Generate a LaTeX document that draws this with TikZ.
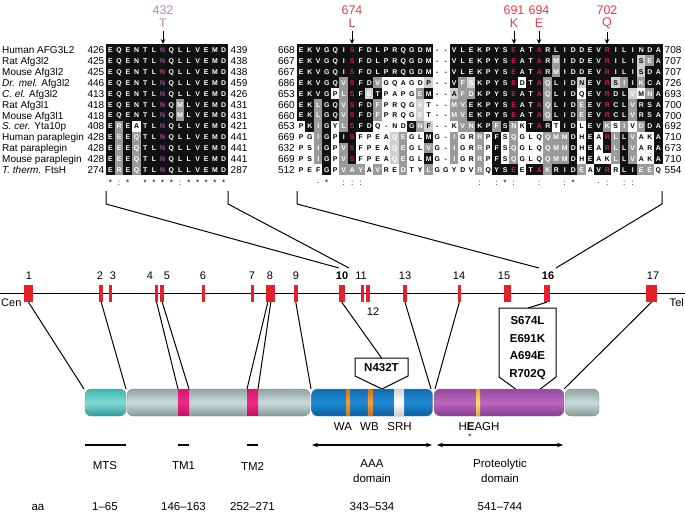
\documentclass[tikz,border=0pt]{standalone}
\usepackage{fontspec}
\setmainfont{Liberation Sans}
\usetikzlibrary{arrows.meta}
\definecolor{alnblack}{HTML}{111111}
\definecolor{alngray}{HTML}{9A9A9A}
\definecolor{alnlight}{HTML}{D0D0D0}
\definecolor{alnpurple}{HTML}{A24E9E}
\definecolor{alnred}{HTML}{D8185E}
\definecolor{lblpurple}{HTML}{B784C8}
\definecolor{lblred}{HTML}{E0404A}
\definecolor{exred}{HTML}{E4202A}
\definecolor{tealT}{HTML}{3BB7B2}
\definecolor{tealM}{HTML}{86D9D3}
\definecolor{tealB}{HTML}{2A9E9A}
\definecolor{grayT}{HTML}{8FA4A4}
\definecolor{grayM}{HTML}{CADBDB}
\definecolor{grayB}{HTML}{869A9A}
\definecolor{blueT}{HTML}{0E6CB4}
\definecolor{blueM}{HTML}{1F8AD2}
\definecolor{blueB}{HTML}{0A5DA3}
\definecolor{purT}{HTML}{9847A0}
\definecolor{purM}{HTML}{BA68BE}
\definecolor{purB}{HTML}{873A90}
\definecolor{magT}{HTML}{D9156F}
\definecolor{magM}{HTML}{EE2A86}
\definecolor{magB}{HTML}{C4105F}
\definecolor{orT}{HTML}{C9741A}
\definecolor{orM}{HTML}{F0A040}
\definecolor{yeT}{HTML}{D9B030}
\definecolor{yeM}{HTML}{F5DE70}

\newcommand\drawcell[7]{%
  \pgfmathsetmacro\cellx{#2+(#5-0.5)*#3}%
  \pgfmathsetmacro\cellw{#3+0.35}%
  \node[alncell, minimum width=\cellw pt, cell#7] (#1-#5) at (\cellx,#4) {#6};%
}
\ExplSyntaxOn
\NewDocumentCommand \alnrow { m m m m m m }
  {
    \str_set:Nn \l_tmpa_str {#5}
    \str_remove_all:Nn \l_tmpa_str {~}
    \str_set:Nn \l_tmpb_str {#6}
    \str_remove_all:Nn \l_tmpb_str {~}
    \int_step_inline:nn { \str_count:N \l_tmpa_str }
      {
        \use:e
          {
            \exp_not:N \drawcell {#1} {#2} {#3} {#4} {##1}
              { \str_item:Nn \l_tmpa_str {##1} }
              { \str_item:Nn \l_tmpb_str {##1} }
          }
      }
  }
\ExplSyntaxOff

\begin{document}
\begin{tikzpicture}[x=1pt,y=-1pt,
  lab/.style={font=\fontsize{10}{12}\selectfont, inner sep=0pt, text height=7.2pt, text depth=0pt},
  alncell/.style={inner sep=0pt, minimum height=11.1pt, font=\fontsize{6.9}{7}\selectfont\bfseries, text height=5pt, text depth=0pt},
  cellk/.style={fill=alnblack, text=white},
  cellg/.style={fill=alngray, text=white},
  celll/.style={fill=alnlight, text=white},
  cellp/.style={fill=alnlight, text=black},
  cellw/.style={fill=white, text=black},
  cellm/.style={fill=alnblack, text=alnpurple},
  cellr/.style={fill=alnblack, text=alnred},
  consv/.style={font=\fontsize{8}{8}\selectfont, inner sep=0pt},
  toplab/.style={font=\fontsize{12.5}{13}\selectfont, inner sep=0pt},
  toparrow/.style={line width=1pt, -{Stealth[length=5pt,width=4.5pt]}},
  conn/.style={line width=1pt},
  exon/.style={fill=exred, inner sep=0pt, minimum height=17pt},
  chrlab/.style={font=\fontsize{11}{12}\selectfont, inner sep=0pt},
  seg/.style={rounded corners=6pt, minimum height=27pt, inner sep=0pt, draw=black!45, line width=0.4pt},
  tealseg/.style={seg, top color=tealT, bottom color=tealB, middle color=tealM},
  grayseg/.style={seg, top color=grayT, bottom color=grayB, middle color=grayM},
  blueseg/.style={seg, top color=blueT, bottom color=blueB, middle color=blueM},
  purseg/.style={seg, top color=purT, bottom color=purB, middle color=purM},
  band/.style={minimum height=26.6pt, inner sep=0pt},
  magband/.style={band, top color=magT, bottom color=magB, middle color=magM},
  orband/.style={band, top color=orT, bottom color=orT, middle color=orM},
  boxtxt/.style={font=\fontsize{11.5}{17.5}\selectfont\bfseries, inner sep=0pt, align=center},
  botlab/.style={font=\fontsize{11.5}{15}\selectfont, inner sep=0pt, align=center},
  dom/.style={line width=1.1pt, {Stealth[length=6pt,width=4.5pt]}-{Stealth[length=6pt,width=4.5pt]}}
]
\useasboundingbox (0,0) rectangle (685,514);

% ---------------- top mutation labels ----------------
\node[toplab, text=lblpurple] (t432) at (163,10) {432};
\node[toplab, text=lblpurple] (tT) at (163,23) {T};
\node[toplab, text=lblred] (t674) at (352,10) {674};
\node[toplab, text=lblred] (tL) at (352,23) {L};
\node[toplab, text=lblred] (t691) at (514,10) {691};
\node[toplab, text=lblred] (tK) at (514,23) {K};
\node[toplab, text=lblred] (t694) at (539,10) {694};
\node[toplab, text=lblred] (tE) at (539,23) {E};
\node[toplab, text=lblred] (t702) at (607,10) {702};
\node[toplab, text=lblred] (tQ) at (607,23) {Q};
\coordinate (aT) at (163,44);
\coordinate (aL) at (352,44);
\coordinate (aK) at (514,44);
\coordinate (aE) at (539,44);
\coordinate (aQ) at (607,44);
\draw[toparrow] ([yshift=-3pt]tT.south) -- (aT);
\draw[toparrow] ([yshift=-3pt]tL.south) -- (aL);
\draw[toparrow] ([yshift=-3pt]tK.south) -- (aK);
\draw[toparrow] ([yshift=-3pt]tE.south) -- (aE);
\draw[toparrow] ([yshift=-3pt]tQ.south) -- (aQ);

% ---------------- alignment labels ----------------
\foreach \i/\nm/\a/\b/\c/\d in {
 1/{Human AFG3L2}/426/439/668/708,
 2/{Rat Afg3l2}/425/438/667/707,
 3/{Mouse Afg3l2}/425/438/667/707,
 4/{\textit{Dr. mel.} Afg3l2}/446/459/686/726,
 5/{\textit{C. el.} Afg3l2}/413/426/653/693,
 6/{Rat Afg3l1}/418/431/660/700,
 7/{Mouse Afg3l1}/418/431/660/700,
 8/{\textit{S. cer.} Yta10p}/408/421/653/692,
 9/{Human paraplegin}/428/441/669/710,
 10/{Rat paraplegin}/428/441/632/673,
 11/{Mouse paraplegin}/428/441/669/710,
 12/{\textit{T. therm.} FtsH}/274/287/512/554}
{
  \pgfmathsetmacro\yy{50+10.9*(\i-1)}
  \node[lab, anchor=west] (nm\i) at (2,\yy) {\nm};
  \node[lab, anchor=east] (la\i) at (104.5,\yy) {\a};
  \node[lab, anchor=west] (lb\i) at (230.5,\yy) {\b};
  \node[lab, anchor=east] (ra\i) at (295,\yy) {\c};
  \node[lab, anchor=west] (rb\i) at (664.5,\yy) {\d};
}

% ---------------- left alignment block ----------------
\alnrow{L1}{106}{8.72}{50}{EQENTLNQLLVEMD}{kkkkkk m kkkkkkk}
\alnrow{L2}{106}{8.72}{60.9}{EQENTLNQLLVEMD}{kkkkkk m kkkkkkk}
\alnrow{L3}{106}{8.72}{71.8}{EQENTLNQLLVEMD}{kkkkkk m kkkkkkk}
\alnrow{L4}{106}{8.72}{82.7}{EQENTLNQLLVEMD}{kkkkkk m kkkkkkk}
\alnrow{L5}{106}{8.72}{93.6}{EQENTLNQLLVEMD}{kkkkkk m kkkkkkk}
\alnrow{L6}{106}{8.72}{104.5}{EQENTLNQMLVEMD}{kkkkkk m k g kkkkk}
\alnrow{L7}{106}{8.72}{115.4}{EQENTLNQMLVEMD}{kkkkkk m k g kkkkk}
\alnrow{L8}{106}{8.72}{126.3}{EREATLNQLLVEMD}{k g k w kk m kkkkkkk}
\alnrow{L9}{106}{8.72}{137.2}{EEEQTLNQLLVEMD}{k g k g kk m kkkkkkk}
\alnrow{L10}{106}{8.72}{148.1}{EEEQTLNQLLVEMD}{k g k g kk m kkkkkkk}
\alnrow{L11}{106}{8.72}{159}{EEEQTLNQLLVEMD}{k g k g kk m kkkkkkk}
\alnrow{L12}{106}{8.72}{169.9}{EREQTLNQLLVEMD}{k g k g kk m kkkkkkk}

% ---------------- right alignment block ----------------
\alnrow{R1}{297}{8.5}{50}{EKVGQISFDLPRQGDM--VLEKPYSEATARLIDDEVRILINDA}{kkkkkk r kkkkkkkkk ww kkkkkkk r kk r kkkkkkk r kkkkkk}
\alnrow{R2}{297}{8.5}{60.9}{EKVGQISFDLPRQGDM--VLEKPYSEATARMIDDEVRILISEA}{kkkkkk r kkkkkkkkk ww kkkkkkk r kk r k g kkkkk r kkk p g k}
\alnrow{R3}{297}{8.5}{71.8}{EKVGQISFDLPRQGDM--VLEKPYSEATARMIDDEVRILISDA}{kkkkkk r kkkkkkkkk ww kkkkkkk r kk r k g kkkkk r kkk p k k}
\alnrow{R4}{297}{8.5}{82.7}{EKVGQVSFDVGQAGDP--VFSKPYSEDTAQLIDNEVRSIIKCA}{kkkkk g r kk g wwwww p ww k g l kkkk r w k r g kkk p kk r p g k g k k}
\alnrow{R5}{297}{8.5}{93.6}{EKVGPLSFETPAPGEM--AFDKPYSEATAQLIDQEVRDLVMNA}{kkkk w g r k l k wwww g k ww p g g kkkk r kk r g kkk w kk r k k l w g k}
\alnrow{R6}{297}{8.5}{104.5}{EKLGQVSFDFPRQGET--MVEKPYSEATAQLIDEEVRCLVRSA}{kk g kk g r kk g wwww l w ww g g kkkkk r kk r g kkk g kk r kk g kkk}
\alnrow{R7}{297}{8.5}{115.4}{EKLGQVSFDFPRQGET--MVEKPYSEATAQLIDEEVRCLVRSA}{kk g kk g r kk g wwww l w ww g g kkkkk r kk r g kkk g kk r kk g kkk}
\alnrow{R8}{297}{8.5}{126.3}{PKIGYLSFDQ-NDGNF--KVNKPFSNKTARTIDLEVKSIVDDA}{w k g k w g r kk wwww k g p ww w g g kk g k g w k r k w kk w kk g w g w g kk}
\alnrow{R9}{297}{8.5}{137.2}{PGIGPISFPEAQEGLMG-IGRRPFSQGLQQMMDHEARLLVAKA}{ww g k w k r www w l g ww k ww g ww g w k w g www ggg k w k w r g k g ww k}
\alnrow{R10}{297}{8.5}{148.1}{PSIGPVSFPEAQEGLVG-IGRRPFSQGLQQMMDHEARLLVARA}{ww g k w g r www w l g ww g ww g ww g w k w g www ggg k w k w r g k g ww k}
\alnrow{R11}{297}{8.5}{159}{PSIGPVSFPEAQEGLMG-IGRRPFSQGLQQMMDHEAKLLVAKA}{ww g k w g r www w l g ww k ww g ww g w k w g www ggg k w k w w g k g ww k}
\alnrow{R12}{297}{8.5}{169.9}{PEFGPVAYAVREDTYLGGYDVRQYSEETAKRIDEAVRRLIEEQ}{www k w ggg w g ww g ww g wwwww g w kk r w k r g kkk g w k r w kk gg w}

% conservation marks
\foreach \c/\s in {0/*,1/:,2/*,4/*,5/*,6/*,7/*,8/:,9/*,10/*,11/*,12/*,13/*}
  \node[consv] (cl\c) at ({106+(\c+0.5)*8.72},183) {\s};
\foreach \c/\s in {2/.,3/*,5/:,6/:,7/:,21/:,23/:,24/*,25/:,28/:,31/:,32/*,35/.,36/:,38/:,39/:}
  \node[consv] (cr\c) at ({297+(\c+0.5)*8.5},183) {\s};

% ---------------- chromosome ----------------
\coordinate (cen) at (0,293.5);
\coordinate (tel) at (685,293.5);
\draw[line width=1.9pt] (cen) -- (tel);
\node[chrlab, anchor=west] (cenlab) at (1,303) {Cen};
\node[chrlab, anchor=east] (tellab) at (684,303) {Tel};
\foreach \n/\x/\w in {1/28.5/9,2/101.2/3.5,3/110.5/3.2,4/156.6/3.5,5/162.2/4,6/203.3/3,7/252.5/3,8/270.3/9.5,9/295.8/4.5,10/341.8/5.5,11/362.8/3,12/367.8/3.5,13/405/3.2,14/459.3/3.5,15/507.3/7.5,16/546.8/6.5,17/651.5/11}
  \node[exon, minimum width=\w pt] (e\n) at (\x,293.5) {};
\foreach \n/\x in {1/29,2/100,3/113,4/150,5/167,6/203,7/252,8/270,9/296,11/361,13/405,14/459,15/504,17/653}
  \node[chrlab] (n\n) at (\x,276) {\n};
\node[chrlab, font=\fontsize{11}{12}\selectfont\bfseries] (n10) at (342,276) {10};
\node[chrlab, font=\fontsize{11}{12}\selectfont\bfseries] (n16) at (548,276) {16};
\node[chrlab] (n12) at (373,312) {12};

% lines from alignment to exons 10 and 16
\coordinate (lv1) at (106,191); \coordinate (lv2) at (106,204); \coordinate (lv3) at (339,268);
\coordinate (lw1) at (228,191); \coordinate (lw2) at (228,204); \coordinate (lw3) at (349,268);
\coordinate (rv1) at (297,191); \coordinate (rv2) at (297,204); \coordinate (rv3) at (539,268);
\coordinate (rw1) at (662,191); \coordinate (rw2) at (662,204); \coordinate (rw3) at (556,268);
\draw[conn] (lv1) -- (lv2) -- (lv3);
\draw[conn] (lw1) -- (lw2) -- (lw3);
\draw[conn] (rv1) -- (rv2) -- (rv3);
\draw[conn] (rw1) -- (rw2) -- (rw3);

% ---------------- callouts ----------------
\coordinate (nb1) at (355,358); \coordinate (nb2) at (408,358);
\coordinate (nb3) at (408,376); \coordinate (nbt) at (382,389); \coordinate (nb4) at (355,376);
\draw[line width=1pt, fill=white] (nb1) -- (nb2) -- (nb3) -- (nbt) -- (nb4) -- cycle;
\node[boxtxt] (n432) at (381.5,368) {N432T};
\coordinate (mb1) at (499,308); \coordinate (mb2) at (556,308); \coordinate (mb3) at (556,377);
\coordinate (mb4) at (539,390); \coordinate (mb5) at (517,390); \coordinate (mb6) at (499,377);
\draw[line width=1pt, fill=white] (mb1) -- (mb2) -- (mb3) -- (mb4) -- (mb5) -- (mb6) -- cycle;
\node[boxtxt] (mut) at (527.5,348) {S674L\\E691K\\A694E\\R702Q};
\coordinate (mtop) at (528,308);
\coordinate (ntop) at (381.5,358);

% ---------------- exon to protein lines ----------------
\coordinate (p1) at (84,389);
\coordinate (p2) at (126,389);
\coordinate (p4) at (178,389);
\coordinate (p5) at (189,389);
\coordinate (p8a) at (247,389);
\coordinate (p8b) at (258,389);
\coordinate (p9) at (311,389);
\coordinate (p13) at (431,389);
\coordinate (p14) at (435,389);
\coordinate (p17) at (564,389);
\draw[conn] (e1.south) -- (p1);
\draw[conn] (e2.south) -- (p2);
\draw[conn] (e4.south) -- (p4);
\draw[conn] (e5.south) -- (p5);
\draw[conn] ([xshift=-2.5pt]e8.south) -- (p8a);
\draw[conn] ([xshift=0.5pt]e8.south) -- (p8b);
\draw[conn] (e9.south) -- (p9);
\draw[conn] (e10.south) -- (ntop);
\draw[conn] (e13.south) -- (p13);
\draw[conn] (e14.south) -- (p14);
\draw[conn] (e16.south) -- (mtop);
\draw[conn] (e17.south) -- (p17);

% ---------------- protein bar ----------------
\node[tealseg, minimum width=41pt] (mts) at (105.5,402.5) {};
\node[grayseg, minimum width=183pt] (g1) at (218.5,402.5) {};
\node[blueseg, minimum width=121pt] (aaa) at (372,402.5) {};
\node[purseg, minimum width=130pt] (prot) at (499,402.5) {};
\node[grayseg, minimum width=34pt] (g2) at (582,402.5) {};
\node[magband, minimum width=11pt] (tm1) at (183.5,402.5) {};
\node[magband, minimum width=11pt] (tm2) at (252.5,402.5) {};
\node[orband, minimum width=4pt] (wa) at (348,402.5) {};
\node[orband, minimum width=4.5pt] (wb) at (370.2,402.5) {};
\node[band, minimum width=10pt, top color=gray!35, bottom color=gray!40, middle color=white] (srh) at (399,402.5) {};
\node[band, minimum width=4pt, top color=yeT, bottom color=yeT, middle color=yeM] (heagh) at (478,402.5) {};

% ---------------- bottom annotations ----------------
\node[botlab] (lwa) at (343,427) {WA};
\node[botlab] (lwb) at (369.5,427) {WB};
\node[botlab] (lsrh) at (399.5,427) {SRH};
\node[botlab] (lhe) at (479,427) {H\textbf{E}AGH};
\node[consv] (hestar) at (470,437) {*};

\coordinate (m1) at (85,445); \coordinate (m2) at (126,445);
\coordinate (t1a) at (178,445); \coordinate (t1b) at (189,445);
\coordinate (t2a) at (247,445); \coordinate (t2b) at (258,445);
\coordinate (d1a) at (312,445); \coordinate (d1b) at (432,445);
\coordinate (d2a) at (437,445); \coordinate (d2b) at (563,445);
\draw[line width=1.1pt] (m1) -- (m2);
\draw[line width=1.1pt] (t1a) -- (t1b);
\draw[line width=1.1pt] (t2a) -- (t2b);
\draw[dom] (d1a) -- (d1b);
\draw[dom] (d2a) -- (d2b);

\node[botlab] (lmts) at (105,466) {MTS};
\node[botlab] (ltm1) at (183.5,466) {TM1};
\node[botlab] (ltm2) at (252.5,466) {TM2};
\node[botlab, anchor=north] (laaa) at (372,459) {AAA\\domain};
\node[botlab, anchor=north] (lprot) at (500,459) {Proteolytic\\domain};

\node[botlab] (laa) at (38,507) {aa};
\node[botlab] (r1) at (105,507) {1--65};
\node[botlab] (r2) at (183.5,507) {146--163};
\node[botlab] (r3) at (252.5,507) {252--271};
\node[botlab] (r4) at (372,507) {343--534};
\node[botlab] (r5) at (500,507) {541--744};
\end{tikzpicture}
\end{document}
